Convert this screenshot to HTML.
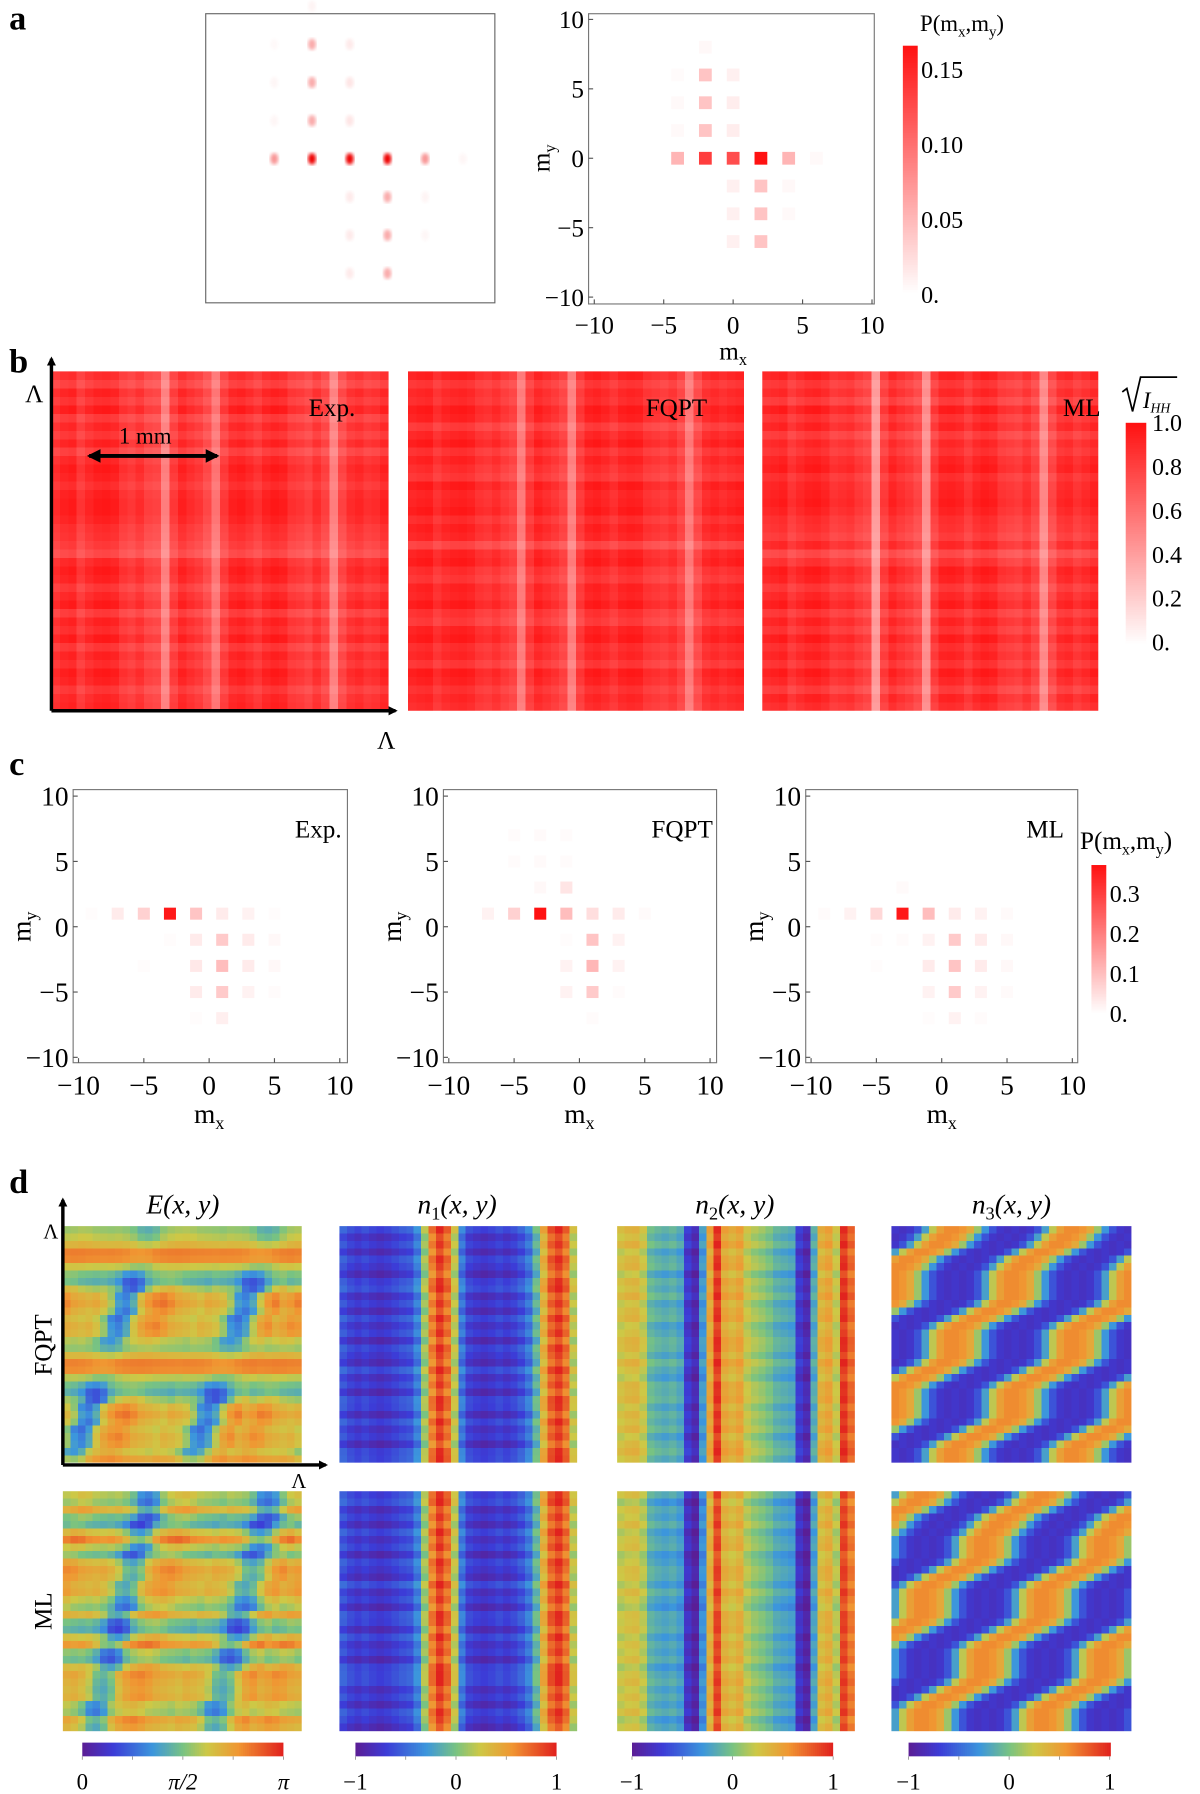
<!DOCTYPE html>
<html><head><meta charset="utf-8">
<style>
html,body{margin:0;padding:0;background:#fff;width:1200px;height:1794px;overflow:hidden}
#wrap{position:absolute;left:0;top:0;width:1050px;height:1570px;transform:scale(1.142857,1.1427);transform-origin:0 0;font-family:"Liberation Serif",serif;color:#000}
.lbl{position:absolute;font-weight:bold;font-size:30px;font-family:"Liberation Serif",serif}
canvas{position:absolute;image-rendering:pixelated}
svg{position:absolute;left:0;top:0;overflow:visible}
svg text{font-family:"Liberation Serif",serif}
</style></head><body>
<div id="wrap">
<div class="lbl" style="left:8px;top:0px">a</div>
<div class="lbl" style="left:8px;top:300px">b</div>
<div class="lbl" style="left:8px;top:652px">c</div>
<div class="lbl" style="left:8px;top:1018px">d</div>

<canvas id="bExp" width="40" height="40" style="left:45px;top:325px;width:295px;height:297px"></canvas>
<canvas id="bFq" width="40" height="40" style="left:357px;top:325px;width:294px;height:297px"></canvas>
<canvas id="bMl" width="40" height="40" style="left:667px;top:325px;width:294px;height:297px"></canvas>
<canvas id="cbB" width="1" height="100" style="left:985px;top:370px;width:18px;height:195px"></canvas>
<canvas id="cbA" width="1" height="100" style="left:790px;top:40px;width:13px;height:218px"></canvas>
<canvas id="cbC" width="1" height="100" style="left:955px;top:757px;width:13px;height:131px"></canvas>

<canvas id="dE1" width="32" height="32" style="left:55px;top:1073px;width:209px;height:207px"></canvas>
<canvas id="dN11" width="32" height="32" style="left:297px;top:1073px;width:208px;height:207px"></canvas>
<canvas id="dN21" width="32" height="32" style="left:540px;top:1073px;width:208px;height:207px"></canvas>
<canvas id="dN31" width="32" height="32" style="left:780px;top:1073px;width:210px;height:207px"></canvas>
<canvas id="dE2" width="32" height="32" style="left:55px;top:1305px;width:209px;height:210px"></canvas>
<canvas id="dN12" width="32" height="32" style="left:297px;top:1305px;width:208px;height:210px"></canvas>
<canvas id="dN22" width="32" height="32" style="left:540px;top:1305px;width:208px;height:210px"></canvas>
<canvas id="dN32" width="32" height="32" style="left:780px;top:1305px;width:210px;height:210px"></canvas>
<canvas id="cbd1" width="100" height="1" style="left:72px;top:1525px;width:176px;height:12px"></canvas>
<canvas id="cbd2" width="100" height="1" style="left:311px;top:1525px;width:176px;height:12px"></canvas>
<canvas id="cbd3" width="100" height="1" style="left:553px;top:1525px;width:176px;height:12px"></canvas>
<canvas id="cbd4" width="100" height="1" style="left:795px;top:1525px;width:177px;height:12px"></canvas>

<svg id="svg" width="1050" height="1570" viewBox="0 0 1050 1570">
<defs>
<marker id="ah" markerWidth="8" markerHeight="8" refX="6" refY="4" orient="auto" markerUnits="userSpaceOnUse"><path d="M0,0 L8,4 L0,8 z" fill="#000"/></marker>
<marker id="ah2" markerWidth="12" markerHeight="12" refX="10" refY="6" orient="auto-start-reverse" markerUnits="userSpaceOnUse"><path d="M0,0 L12,6 L0,12 z" fill="#000"/></marker>
<filter id="blur"><feGaussianBlur stdDeviation="1.6"/></filter>
</defs>
<rect x="180" y="12" width="253" height="253" fill="none" stroke="#666" stroke-width="1"/>
<g id="spots"></g>
<g id="plotA"></g>
<g id="plotC1"></g><g id="plotC2"></g><g id="plotC3"></g>
<g id="cbTicks"></g>
<text x="805" y="27" font-size="20">P(m<tspan font-size="13" dy="5">x</tspan><tspan dy="-5">,m</tspan><tspan font-size="13" dy="5">y</tspan><tspan dy="-5">)</tspan></text>
<text x="945" y="743" font-size="22">P(m<tspan font-size="14" dy="5">x</tspan><tspan dy="-5">,m</tspan><tspan font-size="14" dy="5">y</tspan><tspan dy="-5">)</tspan></text>
<line x1="45" y1="622" x2="45" y2="314" stroke="#000" stroke-width="3" marker-end="url(#ah)"/>
<line x1="45" y1="622" x2="346" y2="622" stroke="#000" stroke-width="3" marker-end="url(#ah)"/>
<text x="22" y="352" font-size="22">Λ</text>
<text x="330" y="655" font-size="22">Λ</text>
<line x1="78" y1="399" x2="190" y2="399" stroke="#000" stroke-width="3.5" marker-start="url(#ah2)" marker-end="url(#ah2)"/>
<text x="104" y="388" font-size="20">1 mm</text>
<text x="270" y="364" font-size="22">Exp.</text>
<text x="565" y="364" font-size="22">FQPT</text>
<text x="930" y="364" font-size="22">ML</text>
<g><path d="M982,343 L986,340 L991,360 L998,330 L1030,330" fill="none" stroke="#000" stroke-width="1.5"/><text x="1000" y="357" font-size="20" font-style="italic">I<tspan font-size="12" dy="4">HH</tspan></text></g>
<text x="258" y="733" font-size="22">Exp.</text>
<text x="570" y="733" font-size="22">FQPT</text>
<text x="898" y="733" font-size="22">ML</text>
<text x="160" y="1062" font-size="24" font-style="italic" text-anchor="middle">E(x, y)</text>
<text x="400" y="1062" font-size="24" font-style="italic" text-anchor="middle">n<tspan font-size="16" dy="5" font-style="normal">1</tspan><tspan dy="-5">(x, y)</tspan></text>
<text x="643" y="1062" font-size="24" font-style="italic" text-anchor="middle">n<tspan font-size="16" dy="5" font-style="normal">2</tspan><tspan dy="-5">(x, y)</tspan></text>
<text x="885" y="1062" font-size="24" font-style="italic" text-anchor="middle">n<tspan font-size="16" dy="5" font-style="normal">3</tspan><tspan dy="-5">(x, y)</tspan></text>
<line x1="55" y1="1282" x2="55" y2="1050" stroke="#000" stroke-width="3" marker-end="url(#ah)"/>
<line x1="55" y1="1282" x2="285" y2="1282" stroke="#000" stroke-width="3" marker-end="url(#ah)"/>
<text x="38" y="1084" font-size="18">Λ</text>
<text x="255" y="1302" font-size="18">Λ</text>
<text transform="translate(45,1177) rotate(-90)" font-size="22" text-anchor="middle">FQPT</text>
<text transform="translate(45,1410) rotate(-90)" font-size="22" text-anchor="middle">ML</text>
<g id="dTicks"></g>
</svg>
</div>
<script>
// ---------- Panel a data ----------
const aMx = [-4,-2,0,2,4,6, -2,0,-2,0,-2,0,-2,-4,-4,-4, 2,0,2,0,2,0,4,4];
const aMy = [0,0,0,0,0,0, 2,2,4,4,6,6,8,2,4,6, -2,-2,-4,-4,-6,-6,-2,-4];
const aP  = [0.05,0.13,0.12,0.16,0.05,0.004, 0.04,0.012,0.04,0.012,0.04,0.01,0.005,0.004,0.004,0.003, 0.04,0.01,0.04,0.01,0.04,0.01,0.005,0.004];
const aTicks = [-10,-5,0,5,10];
const aCbTicks = [0,0.05,0.10,0.15];
const aCbLabels = ["0.","0.05","0.10","0.15"];
// ---------- Panel c data ----------
const cExpMx = [-9,-7,-5,-3,-1,1,3,5, -3,-1,1,3,5, -5,-1,1,3,5, -1,1,3,5, -1,1];
const cExpMy = [1,1,1,1,1,1,1,1, -1,-1,-1,-1,-1, -3,-3,-3,-3,-3, -5,-5,-5,-5, -7,-7];
const cExpP  = [0.005,0.03,0.07,0.35,0.09,0.03,0.02,0.005, 0.005,0.03,0.08,0.03,0.01, 0.005,0.035,0.1,0.03,0.01, 0.03,0.08,0.02,0.006, 0.005,0.025];
const cFqMx = [-7,-5,-3,-1,1,3,5, -1,1,3, -1,1,3, -1,1,3, 1, -3,-1, -5,-3,-1, -5,-3,-1];
const cFqMy = [1,1,1,1,1,1,1, -1,-1,-1, -3,-3,-3, -5,-5,-5, -7, 3,3, 5,5,5, 7,7,7];
const cFqP  = [0.02,0.07,0.36,0.1,0.05,0.03,0.008, 0.004,0.09,0.02, 0.02,0.11,0.02, 0.02,0.08,0.006, 0.006, 0.01,0.04, 0.006,0.008,0.006, 0.006,0.008,0.006];
const cMlMx = [-9,-7,-5,-3,-1,1,3,5, -5,-3,-1,1,3,5, -5,-1,1,3,5, -1,1,3,5, -1,1,3, -3];
const cMlMy = [1,1,1,1,1,1,1,1, -1,-1,-1,-1,-1,-1, -3,-3,-3,-3,-3, -5,-5,-5,-5, -7,-7,-7, 3];
const cMlP  = [0.006,0.02,0.06,0.35,0.1,0.03,0.02,0.008, 0.004,0.006,0.02,0.08,0.03,0.01, 0.004,0.03,0.09,0.03,0.01, 0.02,0.08,0.02,0.008, 0.005,0.02,0.006, 0.008];
const cCbTicks = [0,0.1,0.2,0.3];
const cCbLabels = ["0.","0.1","0.2","0.3"];
const bCbTicks = [0,0.2,0.4,0.6,0.8,1.0];
const bCbLabels = ["0.","0.2","0.4","0.6","0.8","1.0"];
// ---------- Panel b data ----------
const bExpCols = [0.9,0.95,0.97,0.86,0.93,0.97,0.98,0.96,0.88,0.85,0.9,0.82,0.8,0.55,0.85,0.95,0.9,0.86,0.78,0.6,0.85,0.95,0.97,0.93,0.88,0.95,0.98,0.96,0.88,0.86,0.82,0.9,0.82,0.55,0.8,0.9,0.93,0.88,0.9,0.95];
const bExpRows = [0.92,0.84,0.97,0.9,1,0.86,0.95,0.88,0.97,0.85,0.95,1,0.97,0.92,0.98,1,1,0.97,0.92,0.9,0.86,0.8,0.95,1,0.97,0.88,0.95,1,0.86,0.97,0.92,1,0.88,0.97,0.92,1,0.97,0.88,0.95,0.97];
const bFqCols = [0.95,0.97,0.98,0.9,0.95,0.97,0.98,0.96,0.9,0.88,0.92,0.86,0.82,0.58,0.86,0.96,0.92,0.88,0.82,0.56,0.86,0.96,0.98,0.95,0.9,0.96,0.98,0.97,0.9,0.88,0.86,0.9,0.82,0.58,0.8,0.92,0.95,0.92,0.95,0.97];
const bFqRows = [0.97,0.88,0.95,0.92,1,0.97,0.86,0.95,1,0.9,0.97,0.92,0.88,1,0.95,0.97,1,0.92,0.98,0.95,0.82,0.97,1,0.92,0.88,0.97,0.95,1,0.9,0.86,0.97,1,0.92,0.95,0.88,1,0.97,0.9,0.95,0.92];
const bMlCols = [0.93,0.95,0.97,0.88,0.93,0.97,0.98,0.95,0.88,0.9,0.92,0.86,0.82,0.45,0.85,0.95,0.9,0.86,0.8,0.5,0.86,0.96,0.97,0.95,0.88,0.95,0.98,0.96,0.88,0.86,0.84,0.9,0.82,0.52,0.8,0.92,0.94,0.88,0.92,0.96];
const bMlRows = [0.97,0.88,0.95,0.86,1,0.9,0.97,0.86,0.95,0.9,0.97,1,0.92,0.97,0.98,1,0.97,0.92,0.9,0.86,0.95,0.8,0.9,1,0.97,0.88,0.95,1,0.88,0.97,0.9,1,0.92,0.97,0.9,1,0.95,0.86,0.97,0.92];
// ---------- Panel d data ----------
const eCols = [0.62,0.65,0.7,0.68,0.62,0.6,0.58,0.6,0.55,0.45,0.25,0.2,0.3,0.55,0.65,0.7,0.72,0.68,0.62,0.6,0.58,0.55,0.6,0.58,0.55,0.45,0.25,0.2,0.28,0.5,0.65,0.7];
const eRows = [0.55,0.6,0.68,0.82,0.8,0.62,0.5,0.45,0.6,0.72,0.75,0.7,0.68,0.72,0.7,0.6,0.55,0.68,0.82,0.8,0.6,0.5,0.45,0.58,0.7,0.75,0.7,0.68,0.72,0.7,0.65,0.75];
const eMask = [0.3,0.3,0.2,0.1,0.1,0.2,0.4,0.6,0.9,1,1,1,1,1,0.9,0.6,0.3,0.2,0.1,0.1,0.2,0.4,0.6,0.9,1,1,1,1,1,0.9,0.7,0.5];
const eMlRows = [0.6,0.55,0.7,0.5,0.45,0.65,0.8,0.6,0.5,0.68,0.75,0.72,0.7,0.72,0.62,0.55,0.7,0.5,0.45,0.65,0.78,0.55,0.5,0.68,0.75,0.72,0.7,0.72,0.62,0.58,0.75,0.7];
const n1Cols = [0.2,0.15,0.12,0.15,0.12,0.1,0.12,0.15,0.18,0.2,0.3,0.55,0.82,0.95,0.85,0.6,0.28,0.15,0.12,0.1,0.12,0.15,0.12,0.15,0.2,0.28,0.45,0.7,0.88,0.95,0.85,0.6];
const n1Rows = [0.05,-0.03,0.02,-0.05,0.04,0,-0.06,0.03,0.06,-0.04,0.02,-0.05,0.05,-0.02,0.03,-0.06,0.04,0,-0.05,0.06,-0.03,0.02,-0.06,0.04,0.03,-0.05,0.05,-0.02,0.02,-0.06,0.04,0.05];
const n2Cols = [0.62,0.65,0.66,0.6,0.45,0.42,0.4,0.42,0.38,0.12,0.05,0.35,0.72,0.95,0.72,0.68,0.72,0.6,0.55,0.52,0.48,0.42,0.4,0.38,0.12,0.05,0.4,0.68,0.72,0.6,0.95,0.85];
const n2Rows = [0.04,0,0.05,-0.03,0.02,0.04,-0.04,0.03,0,0.05,-0.02,0.02,0.04,-0.03,0,0.04,0.03,-0.02,0.05,0,-0.04,0.03,0.02,0.04,-0.02,0.03,0,0.04,-0.03,0.02,0.05,0];
const n3Wave = [0.12,0.1,0.12,0.2,0.38,0.6,0.75,0.8,0.8,0.78,0.72,0.55,0.35,0.2,0.12,0.1];
const n3Shift1 = [0,1,2,4,6,7,8,8,8,8,9,11,13,15,16,16,16,16,17,19,21,23,24,24,24,24,25,27,29,31,32,32];
const n3Shift2 = [0,1,3,5,6,7,8,8,8,9,11,13,15,16,16,16,16,17,19,21,23,24,24,24,24,25,27,29,31,32,32,32];

const NS='http://www.w3.org/2000/svg';
function mk(parent,tag,attrs){const e=document.createElementNS(NS,tag);for(const k in attrs)e.setAttribute(k,attrs[k]);parent.appendChild(e);return e;}
function redCol(t){t=Math.max(0,Math.min(1,t));const g=Math.round(255*(1-t)+18*t);return `rgb(255,${g},${g})`;}
const stops=[[0,[90,30,150]],[0.15,[60,60,215]],[0.35,[60,150,220]],[0.5,[120,195,130]],[0.62,[205,200,70]],[0.78,[240,150,50]],[1,[225,35,30]]];
function rainbow(t){t=Math.max(0,Math.min(1,t));for(let i=1;i<stops.length;i++){if(t<=stops[i][0]){const a=stops[i-1],b=stops[i];const f=(t-a[0])/(b[0]-a[0]);const c=a[1].map((v,j)=>Math.round(v+(b[1][j]-v)*f));return `rgb(${c[0]},${c[1]},${c[2]})`;}}return 'rgb(225,35,30)';}
function grid(id,nx,ny,fn,cf){const c=document.getElementById(id).getContext('2d');for(let y=0;y<ny;y++)for(let x=0;x<nx;x++){c.fillStyle=cf(fn(x,y));c.fillRect(x,y,1,1);}}

grid('bExp',40,40,(x,y)=>bExpCols[x]*bExpRows[y],redCol);
grid('bFq',40,40,(x,y)=>bFqCols[x]*bFqRows[y],redCol);
grid('bMl',40,40,(x,y)=>bMlCols[x]*bMlRows[y],redCol);
grid('cbB',1,100,(x,y)=>1-y/99,redCol);
grid('cbA',1,100,(x,y)=>1-y/99,redCol);
grid('cbC',1,100,(x,y)=>1-y/99,redCol);
const cl=v=>Math.max(0,Math.min(1,v));
grid('dE1',32,32,(x,y)=>cl(eRows[y]+(eCols[(x+Math.floor(y/3))%32]-0.62)*eMask[y]),rainbow);
grid('dE2',32,32,(x,y)=>cl(eMlRows[y]+(eCols[(x+Math.floor(y/4))%32]-0.62)*0.7),rainbow);
grid('dN11',32,32,(x,y)=>cl(n1Cols[x]+n1Rows[y]),rainbow);
grid('dN12',32,32,(x,y)=>cl(n1Cols[x]+n1Rows[(y+7)%32]),rainbow);
grid('dN21',32,32,(x,y)=>cl(n2Cols[x]+n2Rows[y]),rainbow);
grid('dN22',32,32,(x,y)=>cl(n2Cols[x]+n2Rows[(y+5)%32]-0.03),rainbow);
grid('dN31',32,32,(x,y)=>n3Wave[(x+n3Shift1[y])%16],rainbow);
grid('dN32',32,32,(x,y)=>n3Wave[(x+n3Shift2[y]+4)%16],rainbow);
for(let i=1;i<=4;i++)grid('cbd'+i,100,1,(x)=>x/99,rainbow);

const dLabs=[["0","π/2","π"],["−1","0","1"],["−1","0","1"],["−1","0","1"]];
const dCbX=[72,311,553,795];
const dT=document.getElementById('dTicks');
for(let i=0;i<4;i++){for(let k=0;k<3;k++){const t=mk(dT,'text',{x:dCbX[i]+k*88,y:1566,'font-size':20,'text-anchor':'middle'});t.textContent=dLabs[i][k];


if(i==0&&k>0)t.setAttribute('font-style','italic');}
for(let k=0;k<=4;k++){mk(dT,'line',{x1:dCbX[i]+k*44,x2:dCbX[i]+k*44,y1:1537,y2:1540,stroke:'#888','stroke-width':0.7});}}

const cbt=document.getElementById('cbTicks');
function cbLabels(ticks,labels,x,yTop,h,vmax,fs){ticks.forEach((v,i)=>{const y=yTop+h-(v/vmax)*h;const t=mk(cbt,'text',{x:x,y:y+fs*0.35,'font-size':fs});t.textContent=labels[i];

});}
cbLabels(aCbTicks,aCbLabels,806,40+8,210,0.16,21);
cbLabels(bCbTicks,bCbLabels,1008,370,192,1.0,21);
cbLabels(cCbTicks,cCbLabels,971,757+4,126,0.36,21);

function cellPlot(gid,x0,x1,y0,y1,cx,cy,sc,mx,my,p,vmax,fs,name){
  const g=document.getElementById(gid);
  
  
  const xs=m=>cx+m*sc, ys=m=>cy-m*sc;
  for(let i=0;i<p.length;i++){const r=mk(g,'rect',{x:xs(mx[i])-sc*0.46,y:ys(my[i])-sc*0.46,width:sc*0.92,height:sc*0.92,fill:redCol(p[i]/vmax)});
    
    }
  mk(g,'rect',{x:x0,y:y0,width:x1-x0,height:y1-y0,fill:'none',stroke:'#777','stroke-width':1});
  aTicks.forEach(v=>{
    mk(g,'line',{x1:xs(v),x2:xs(v),y1:y1,y2:y1-4,stroke:'#555'});
    mk(g,'line',{x1:x0,x2:x0+4,y1:ys(v),y2:ys(v),stroke:'#555'});
    const tx=mk(g,'text',{x:xs(v),y:y1+fs+4,'font-size':fs,'text-anchor':'middle'});tx.textContent=(v<0?'−':'')+Math.abs(v);
    
    
    const ty=mk(g,'text',{x:x0-4,y:ys(v)+fs*0.35,'font-size':fs,'text-anchor':'end'});ty.textContent=(v<0?'−':'')+Math.abs(v);
    
    
  });
  const xl=mk(g,'text',{x:cx,y:y1+fs*2.2,'font-size':fs,'text-anchor':'middle'});xl.innerHTML='m<tspan font-size="'+(fs*0.65)+'" dy="5">x</tspan>';
  
  
  const yl=mk(g,'text',{transform:`translate(${x0-fs*1.55},${cy}) rotate(-90)`,'font-size':fs,'text-anchor':'middle'});yl.innerHTML='m<tspan font-size="'+(fs*0.65)+'" dy="5">y</tspan>';
  
  
}
cellPlot('plotA',515,765,12,266,641.5,138.5,12.15,aMx,aMy,aP,0.16,22,'plot-a');
cellPlot('plotC1',64,304,691,930,183,811,11.43,cExpMx,cExpMy,cExpP,0.36,24,'plot-c-exp');
cellPlot('plotC2',388,627,691,930,507,811,11.43,cFqMx,cFqMy,cFqP,0.36,24,'plot-c-fqpt');
cellPlot('plotC3',705,943,691,930,824,811,11.43,cMlMx,cMlMy,cMlP,0.36,24,'plot-c-ml');

const sp=document.getElementById('spots');
for(let i=0;i<aP.length;i++){const c=mk(sp,'ellipse',{cx:306+aMx[i]*16.5,cy:139-aMy[i]*16.7,rx:3.5,ry:5,fill:'#e00',opacity:Math.min(1,aP[i]/0.12),filter:'url(#blur)'});
  
  }
</script>
</body></html>
